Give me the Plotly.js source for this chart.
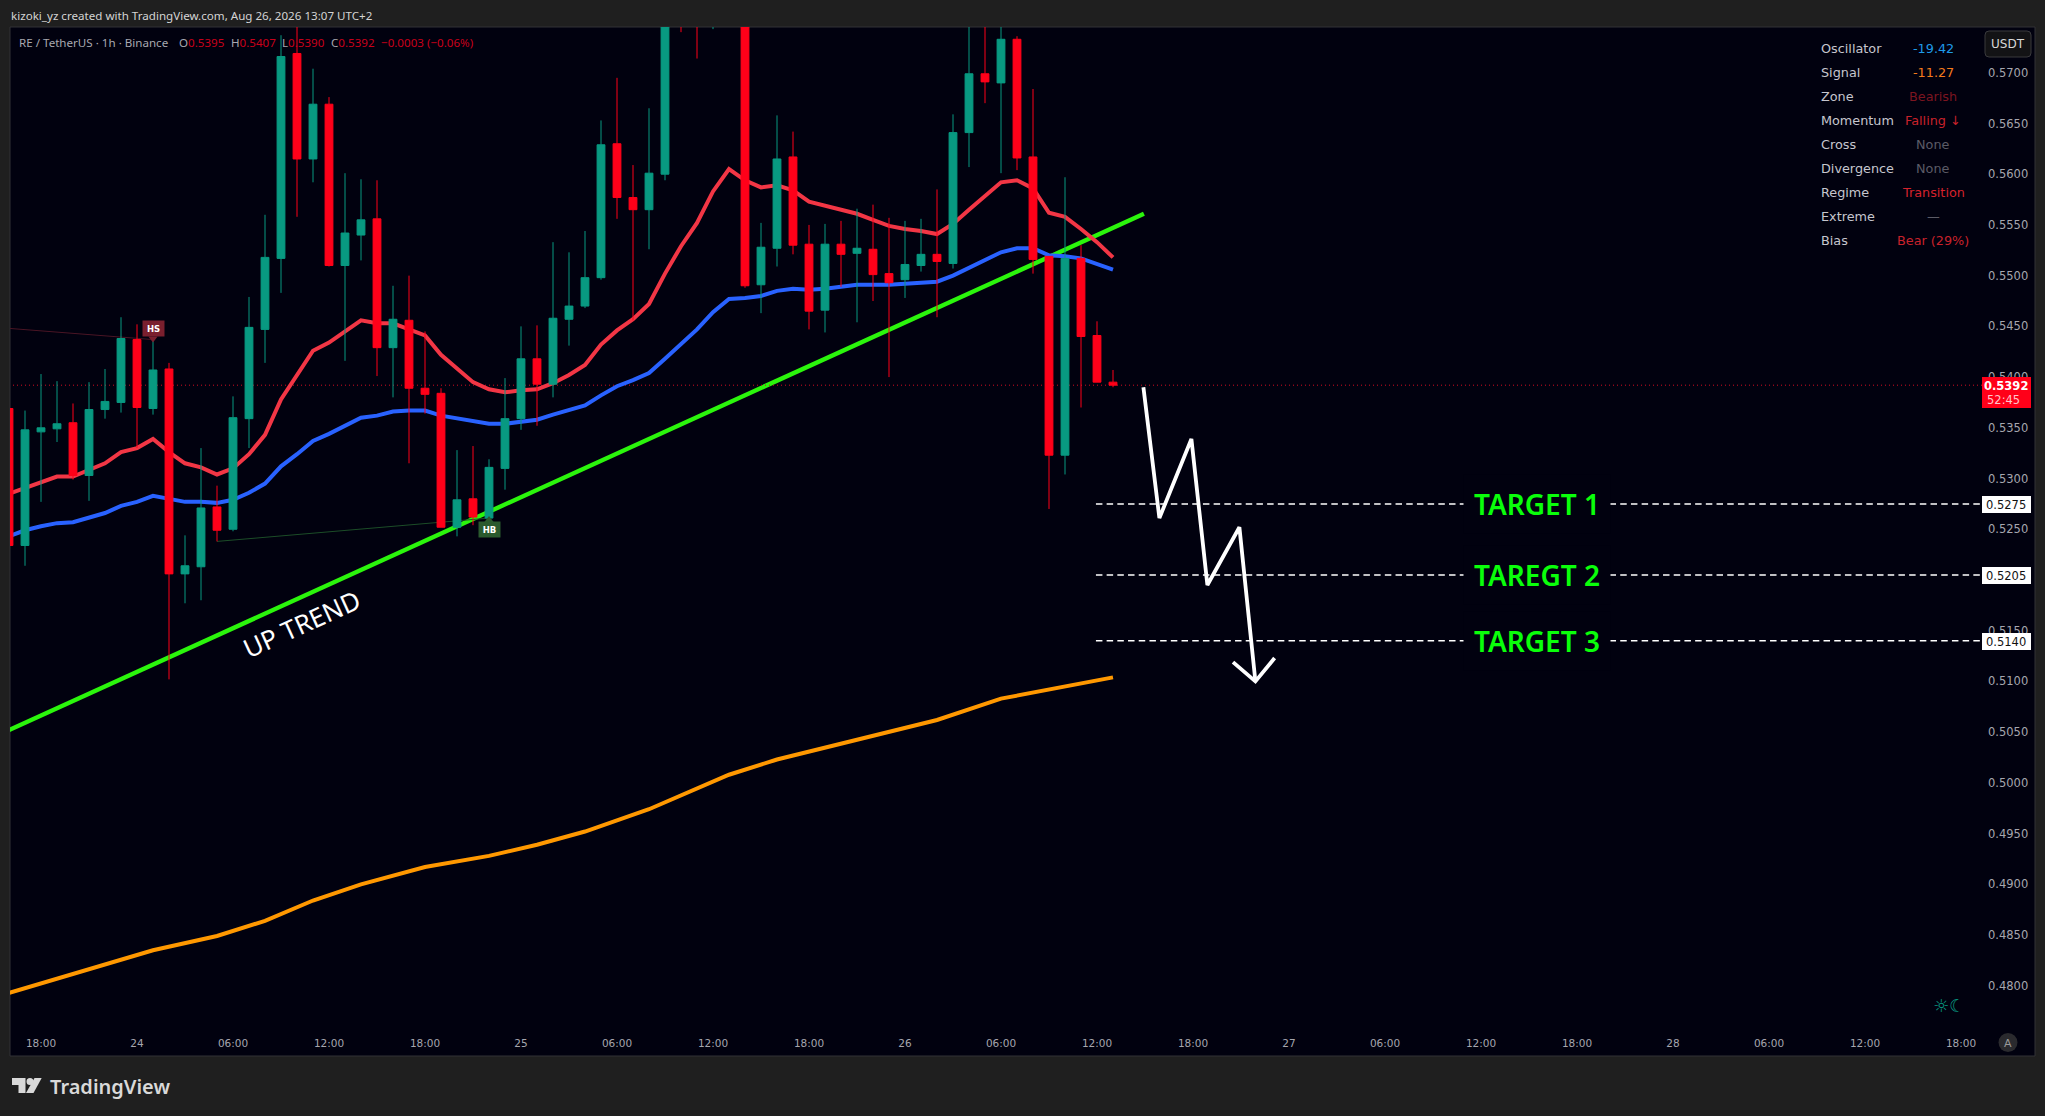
<!DOCTYPE html>
<html>
<head>
<meta charset="utf-8">
<title>RE / TetherUS 1h</title>
<script src="https://cdn.plot.ly/plotly-3.0.1.min.js"></script>
<style>html,body{margin:0;padding:0;background:#1f1f1f}#chart{width:2045px;height:1116px}</style>
</head>
<body>
<div id="chart"></div>
<script>
// ---------- data ----------
const times = [
"2026-08-23 16:00","2026-08-23 17:00","2026-08-23 18:00","2026-08-23 19:00","2026-08-23 20:00","2026-08-23 21:00","2026-08-23 22:00","2026-08-23 23:00",
"2026-08-24 00:00","2026-08-24 01:00","2026-08-24 02:00","2026-08-24 03:00","2026-08-24 04:00","2026-08-24 05:00","2026-08-24 06:00","2026-08-24 07:00",
"2026-08-24 08:00","2026-08-24 09:00","2026-08-24 10:00","2026-08-24 11:00","2026-08-24 12:00","2026-08-24 13:00","2026-08-24 14:00","2026-08-24 15:00",
"2026-08-24 16:00","2026-08-24 17:00","2026-08-24 18:00","2026-08-24 19:00","2026-08-24 20:00","2026-08-24 21:00","2026-08-24 22:00","2026-08-24 23:00",
"2026-08-25 00:00","2026-08-25 01:00","2026-08-25 02:00","2026-08-25 03:00","2026-08-25 04:00","2026-08-25 05:00","2026-08-25 06:00","2026-08-25 07:00",
"2026-08-25 08:00","2026-08-25 09:00","2026-08-25 10:00","2026-08-25 11:00","2026-08-25 12:00","2026-08-25 13:00","2026-08-25 14:00","2026-08-25 15:00",
"2026-08-25 16:00","2026-08-25 17:00","2026-08-25 18:00","2026-08-25 19:00","2026-08-25 20:00","2026-08-25 21:00","2026-08-25 22:00","2026-08-25 23:00",
"2026-08-26 00:00","2026-08-26 01:00","2026-08-26 02:00","2026-08-26 03:00","2026-08-26 04:00","2026-08-26 05:00","2026-08-26 06:00","2026-08-26 07:00",
"2026-08-26 08:00","2026-08-26 09:00","2026-08-26 10:00","2026-08-26 11:00","2026-08-26 12:00","2026-08-26 13:00"];
const opens = [
.5369,.5234,.5346,.5349,.5355,.5303,.5368,.5375,
.5437,.5369,.5408,.5206,.5213,.5272,.5250,.5359,
.5447,.5517,.5719,.5615,.5669,.5510,.5540,.5556,
.5429,.5456,.5389,.5384,.5252,.5280,.5261,.5310,
.5359,.5418,.5393,.5457,.5470,.5498,.5630,.5577,
.5565,.5600,.5815,.5800,.5790,.5795,.5790,.5491,
.5527,.5617,.5531,.5466,.5531,.5522,.5526,.5502,
.5496,.5510,.5521,.5512,.5641,.5699,.5690,.5733,
.5617,.5519,.5323,.5517,.5441,.5395];
const highs = [
.5369,.5367,.5403,.5396,.5374,.5395,.5408,.5459,
.5452,.5437,.5414,.5244,.5330,.5293,.5381,.5479,
.5560,.5737,.5770,.5704,.5676,.5601,.5595,.5594,
.5490,.5500,.5445,.5389,.5328,.5332,.5319,.5399,
.5450,.5451,.5533,.5523,.5544,.5653,.5695,.5609,
.5665,.5790,.5830,.5820,.5830,.5815,.5800,.5552,
.5658,.5642,.5550,.5551,.5554,.5566,.5570,.5557,
.5554,.5556,.5585,.5659,.5750,.5755,.5752,.5736,
.5684,.5519,.5597,.5530,.5455,.5407];
const lows = [
.5234,.5214,.5277,.5336,.5299,.5278,.5359,.5365,
.5330,.5363,.5102,.5177,.5180,.5238,.5248,.5330,
.5414,.5483,.5558,.5592,.5509,.5416,.5515,.5401,
.5380,.5315,.5364,.5252,.5243,.5254,.5261,.5289,
.5348,.5352,.5380,.5431,.5468,.5496,.5556,.5456,
.5526,.5594,.5740,.5714,.5743,.5780,.5488,.5463,
.5509,.5521,.5447,.5444,.5489,.5454,.5475,.5400,
.5478,.5504,.5459,.5507,.5607,.5670,.5601,.5604,
.5502,.5270,.5304,.5370,.5395,.5390];
const closes = [
.5234,.5348,.5350,.5354,.5303,.5368,.5376,.5438,
.5370,.5407,.5206,.5214,.5271,.5249,.5360,.5449,
.5518,.5716,.5615,.5669,.5510,.5542,.5555,.5429,
.5457,.5389,.5383,.5252,.5279,.5262,.5311,.5359,
.5418,.5393,.5458,.5470,.5498,.5629,.5577,.5565,
.5601,.5760,.5790,.5780,.5810,.5805,.5490,.5528,
.5615,.5530,.5465,.5531,.5521,.5527,.5501,.5493,
.5511,.5521,.5514,.5641,.5699,.5691,.5733,.5616,
.5516,.5323,.5517,.5440,.5395,.5392];
const emaRed = [
.5285,.5291,.5297,.5302,.5302,.5308,.5315,.5326,
.5330,.5339,.5326,.5315,.5311,.5304,.5310,.5324,
.5343,.5378,.5402,.5426,.5434,.5445,.5456,.5453,
.5453,.5447,.5441,.5422,.5409,.5395,.5388,.5385,
.5387,.5388,.5394,.5402,.5412,.5432,.5446,.5457,
.5472,.5502,.5529,.5552,.5583,.5605,.5594,.5587,
.5589,.5584,.5573,.5569,.5565,.5561,.5555,.5549,
.5546,.5544,.5541,.5551,.5565,.5578,.5592,.5594,
.5586,.5562,.5558,.5546,.5533,.5518];
const emaBlue = [
.5243,.5249,.5253,.5256,.5257,.5262,.5266,.5273,
.5277,.5283,.5280,.5277,.5277,.5276,.5279,.5286,
.5295,.5312,.5324,.5337,.5344,.5352,.5360,.5362,
.5366,.5367,.5367,.5362,.5359,.5356,.5354,.5354,
.5356,.5358,.5363,.5367,.5372,.5382,.5391,.5397,
.5404,.5418,.5433,.5447,.5464,.5477,.5478,.5480,
.5485,.5487,.5486,.5487,.5489,.5491,.5491,.5491,
.5492,.5493,.5494,.5500,.5508,.5515,.5523,.5527,
.5527,.5520,.5519,.5517,.5512,.5506];
const emaOrangeTimes = [
"2026-08-23 16:00","2026-08-23 19:00","2026-08-23 21:00","2026-08-24 01:00","2026-08-24 05:00","2026-08-24 08:00",
"2026-08-24 11:00","2026-08-24 14:00","2026-08-24 18:00","2026-08-24 22:00","2026-08-25 01:00","2026-08-25 04:00",
"2026-08-25 08:00","2026-08-25 11:00","2026-08-25 13:00","2026-08-25 16:00","2026-08-25 21:00","2026-08-26 02:00",
"2026-08-26 06:00","2026-08-26 09:00","2026-08-26 11:00","2026-08-26 13:00"];
const emaOrange = [.4793,.4807,.4816,.4835,.4849,.4864,.4884,.4900,.4917,.4928,.4939,.4952,.4974,.4995,.5008,.5023,.5043,.5062,.5083,.5092,.5099,.5104];
const trendTimes = ["2026-08-23 16:00","2026-08-26 14:56"];
const trendPrices = [.5052,.5561];
const zigzagTimes = ["2026-08-26 14:54","2026-08-26 15:54","2026-08-26 17:54","2026-08-26 18:54","2026-08-26 20:54","2026-08-26 21:54"];
const zigzagPrices = [.5390,.5261,.5339,.5195,.5252,.5100];
const arrowTimes = ["2026-08-26 20:30","2026-08-26 21:54","2026-08-26 23:06"];
const arrowPrices = [.5119,.5100,.5123];
const hsTimes = ["2026-08-23 16:00","2026-08-24 00:59"];
const hsPrices = [.5448,.5437];
const hbTimes = ["2026-08-24 05:00","2026-08-24 22:00"];
const hbPrices = [.5238,.5261];
const targetLevels = [.5275,.5205,.5140];
const targetNames = ["TARGET 1","TAREGT 2","TARGET 3"];
const lastPrice = .5392;
const priceTicks = [.48,.485,.49,.495,.50,.505,.51,.515,.52,.525,.53,.535,.54,.545,.55,.555,.56,.565,.57];
const timeTicks = [
"2026-08-23 18:00","2026-08-24 00:00","2026-08-24 06:00","2026-08-24 12:00","2026-08-24 18:00","2026-08-25 00:00","2026-08-25 06:00",
"2026-08-25 12:00","2026-08-25 18:00","2026-08-26 00:00","2026-08-26 06:00","2026-08-26 12:00","2026-08-26 18:00","2026-08-27 00:00",
"2026-08-27 06:00","2026-08-27 12:00","2026-08-27 18:00","2026-08-28 00:00","2026-08-28 06:00","2026-08-28 12:00","2026-08-28 18:00"];
const timeLabels = ["18:00","24","06:00","12:00","18:00","25","06:00","12:00","18:00","26","06:00","12:00","18:00","27","06:00","12:00","18:00","28","06:00","12:00","18:00"];
const tableLabels = ["Oscillator","Signal","Zone","Momentum","Cross","Divergence","Regime","Extreme","Bias"];
const tableValues = ["-19.42","-11.27","Bearish","Falling ↓","None","None","Transition","—","Bear (29%)"];
const tableColors = ["#1e9be8","#f57a1c","#7d1520","#c9222b","#5b5b66","#5b5b66","#d5222c","#5b5b66","#c9222b"];

// ---------- frame ----------
const W=2045,H=1116,L=10,R=1982,T=27,B=1032;
const PANE='#01010f',PAGE='#1f1f1f',UP='#089981',DOWN='#ff0019';
const FONT='"DejaVu Sans"';
const TEXTFONT='"Noto Sans"';
const px=x=>(x-L)/(R-L), py=y=>1-(y-T)/(B-T);
const xRange=["2026-08-23 16:03:45","2026-08-28 19:18:45"];
const yRange=[0.47544,0.57451];
const endX=xRange[1];
const levelStart="2026-08-26 11:56";

function line(x,y,color,width,dash){return {type:'scatter',mode:'lines',x:x,y:y,hoverinfo:'skip',line:{color:color,width:width,dash:dash||'solid',shape:'linear'}};}

const traces=[
 line(trendTimes,trendPrices,'#2bf50c',4.4),
 line(hsTimes,hsPrices,'#4a1525',1),
 line(hbTimes,hbPrices,'#1c4d28',1),
 line([times[0],endX],[lastPrice,lastPrice],'#d00d22',1,'1px,3px'),
 line(emaOrangeTimes,emaOrange,'#ff9800',4),
 line(times,emaBlue,'#2962ff',4),
 line(times,emaRed,'#f23645',4),
];
targetLevels.forEach(v=>traces.push(line([levelStart,endX],[v,v],'#ffffff',1.5,'6.5px,4.2px')));
traces.push(line(zigzagTimes,zigzagPrices,'#ffffff',3.8));
traces.push(line(arrowTimes,arrowPrices,'#ffffff',3.8));
traces.push({type:'candlestick',x:times,open:opens,high:highs,low:lows,close:closes,xaxis:'x2',yaxis:'y2',hoverinfo:'skip',
  whiskerwidth:0,
  increasing:{line:{color:UP,width:1},fillcolor:UP},
  decreasing:{line:{color:DOWN,width:1},fillcolor:DOWN}});
traces.push({type:'scatter',mode:'markers',x:["2026-08-24 01:00"],y:[.5438],xaxis:'x2',yaxis:'y2',hoverinfo:'skip',marker:{symbol:'triangle-down',size:8,color:'#7a1f2e'}});
traces.push({type:'scatter',mode:'markers',x:["2026-08-24 22:00"],y:[.5259],xaxis:'x2',yaxis:'y2',hoverinfo:'skip',marker:{symbol:'triangle-up',size:8,color:'#2a5a2e'}});

function txt(x,y,text,color,size,anchor,extra){return Object.assign({xref:'paper',yref:'paper',x:px(x),y:py(y),text:text,showarrow:false,xanchor:anchor||'left',yanchor:'middle',font:{family:FONT,size:size,color:color}},extra||{});}
const HEAD=11.6;
const annotations=[
 txt(9,15,'kizoki_yz created with TradingView.com, Aug 26, 2026 13:07 UTC+2','#d4d4d4',12,'left',{font:{family:TEXTFONT,size:HEAD,color:'#d4d4d4'}}),
 txt(17,42,'RE / TetherUS · 1h · Binance','#a8a8b0',12,'left',{font:{family:TEXTFONT,size:HEAD,color:'#a8a8b0'}}),
 txt(177,42,'O<span style="color:#c9001a">0.5395</span>','#a8a8b0',12,'left',{font:{family:TEXTFONT,size:HEAD,color:'#a8a8b0'}}),
 txt(229,42,'H<span style="color:#c9001a">0.5407</span>','#a8a8b0',12,'left',{font:{family:TEXTFONT,size:HEAD,color:'#a8a8b0'}}),
 txt(280,42,'L<span style="color:#c9001a">0.5390</span>','#a8a8b0',12,'left',{font:{family:TEXTFONT,size:HEAD,color:'#a8a8b0'}}),
 txt(329,42,'C<span style="color:#c9001a">0.5392</span>','#a8a8b0',12,'left',{font:{family:TEXTFONT,size:HEAD,color:'#a8a8b0'}}),
 txt(379,42,'−0.0003 (−0.06%)','#c9001a',12,'left',{font:{family:TEXTFONT,size:HEAD,color:'#c9001a'}}),
 // USDT button, price labels
 txt(2008,44,'USDT','#d8d8d8',12,'center'),
 txt(2006.5,386,'0.5392','#ffffff',11.5,'center',{font:{family:FONT,size:11.5,color:'#ffffff',weight:700}}),
 txt(2004,400,'52:45','#ffc4cb',11.5,'center'),
 txt(2006.5,504.5,'0.5275','#111111',11.5,'center'),
 txt(2006.5,575.5,'0.5205','#111111',11.5,'center'),
 txt(2006.5,641.5,'0.5140','#111111',11.5,'center'),
 txt(2008,1043,'A','#9a9a9a',11,'center'),
 txt(1949,1005,'☼☾','#089981',18,'center'),
 // logo word
 txt(48,1086,'TradingView','#d9d9d9',20,'left',{font:{family:'"Noto Sans"',size:20,color:'#d9d9d9',weight:600}}),
 // UP TREND
 txt(301,624,'UP TREND','#ffffff',26,'center',{textangle:-24.5,font:{family:TEXTFONT,size:26,color:'#ffffff'}}),
 // tags
 {xref:'x',yref:'y',x:"2026-08-24 01:00",y:.5448,text:'<b>HS</b>',showarrow:false,font:{family:FONT,size:8.5,color:'#ffffff'},bgcolor:'#7a1f2e',width:21,height:15,borderpad:0},
 {xref:'x',yref:'y',x:"2026-08-24 22:00",y:.5250,text:'<b>HB</b>',showarrow:false,font:{family:FONT,size:8.5,color:'#ffffff'},bgcolor:'#2a5a2e',width:21,height:15,borderpad:0},
];
targetLevels.forEach((v,k)=>annotations.push({xref:'paper',yref:'y',x:px(1537),y:v,text:targetNames[k],showarrow:false,xanchor:'center',yanchor:'middle',
  font:{family:TEXTFONT,size:28,color:'#0aff0a',weight:600},bgcolor:PANE,borderpad:10}));
tableLabels.forEach((t,k)=>{
  annotations.push(txt(1819,48.3+24*k,t,'#c6c6ce',12.8,'left'));
  annotations.push(txt(1933,48.3+24*k,tableValues[k],tableColors[k],12.8,'center'));
});

function rect(x0,y0,x1,y1,fill,lineColor,layer){return {type:'rect',xref:'paper',yref:'paper',x0:px(x0),x1:px(x1),y0:py(y0),y1:py(y1),fillcolor:fill,line:{color:lineColor||fill,width:lineColor?1:0},layer:layer||'above'};}
function poly(points,fill){return {type:'path',xref:'paper',yref:'paper',path:'M '+points.map(p=>px(p[0])+' '+py(p[1])).join(' L ')+' Z',fillcolor:fill,line:{width:0},layer:'above'};}
function rounded(x0,y0,x1,y1,r,fill,lineColor){
  const P=(x,y)=>px(x)+' '+py(y);
  return {type:'path',xref:'paper',yref:'paper',fillcolor:fill,line:{color:lineColor,width:1},layer:'above',
   path:'M '+P(x0+r,y0)+' L '+P(x1-r,y0)+' Q '+P(x1,y0)+' '+P(x1,y0+r)+' L '+P(x1,y1-r)+' Q '+P(x1,y1)+' '+P(x1-r,y1)+' L '+P(x0+r,y1)+' Q '+P(x0,y1)+' '+P(x0,y1-r)+' L '+P(x0,y0+r)+' Q '+P(x0,y0)+' '+P(x0+r,y0)+' Z'};
}
const shapes=[
 rect(10,27,2035,1056,PANE,'#333336','below'),
 rounded(1985,31,2031,57,4,'#131315','#3a3a3d'),
 rect(1982,377,2031,408,'#ff0019'),
 rect(1982,496,2031,513,'#ffffff'),
 rect(1982,567,2031,584,'#ffffff'),
 rect(1982,633,2031,650,'#ffffff'),
 {type:'circle',xref:'paper',yref:'paper',x0:px(1998.5),x1:px(2017.5),y0:py(1033),y1:py(1052),fillcolor:'#2a2a2e',line:{width:0},layer:'above'},
 poly([[12,1078],[25.5,1078],[25.5,1093],[18.5,1093],[18.5,1085],[12,1085]],'#d9d9d9'),
 {type:'circle',xref:'paper',yref:'paper',x0:px(26.5),x1:px(33.5),y0:py(1078),y1:py(1085),fillcolor:'#d9d9d9',line:{width:0},layer:'above'},
 poly([[34.5,1078],[41.7,1078],[33.5,1093],[26,1093]],'#d9d9d9'),
];

const layout={
 width:W,height:H,paper_bgcolor:PAGE,plot_bgcolor:'rgba(0,0,0,0)',showlegend:false,hovermode:false,dragmode:false,boxgap:0.3,
 margin:{l:L,r:W-R,t:T,b:H-B,pad:0},
 xaxis:{type:'date',range:xRange,tickmode:'array',tickvals:timeTicks,ticktext:timeLabels,showgrid:false,zeroline:false,showline:false,ticks:'',
   tickfont:{family:FONT,size:10.5,color:'#a6a6ae'},rangeslider:{visible:false},fixedrange:true,tickangle:0,ticklabelstandoff:3},
 yaxis:{side:'right',range:yRange,tickmode:'array',tickvals:priceTicks,tickformat:'.4f',showgrid:false,zeroline:false,showline:false,ticks:'',
   tickfont:{family:FONT,size:11.5,color:'#a6a6ae'},fixedrange:true,ticklabelstandoff:5},
 xaxis2:{type:'date',range:xRange,overlaying:'x',visible:false,rangeslider:{visible:false},fixedrange:true},
 yaxis2:{range:yRange,overlaying:'y',side:'right',visible:false,fixedrange:true},
 annotations:annotations,shapes:shapes
};
Plotly.newPlot('chart',traces,layout,{displayModeBar:false,staticPlot:true});
</script>
</body>
</html>
